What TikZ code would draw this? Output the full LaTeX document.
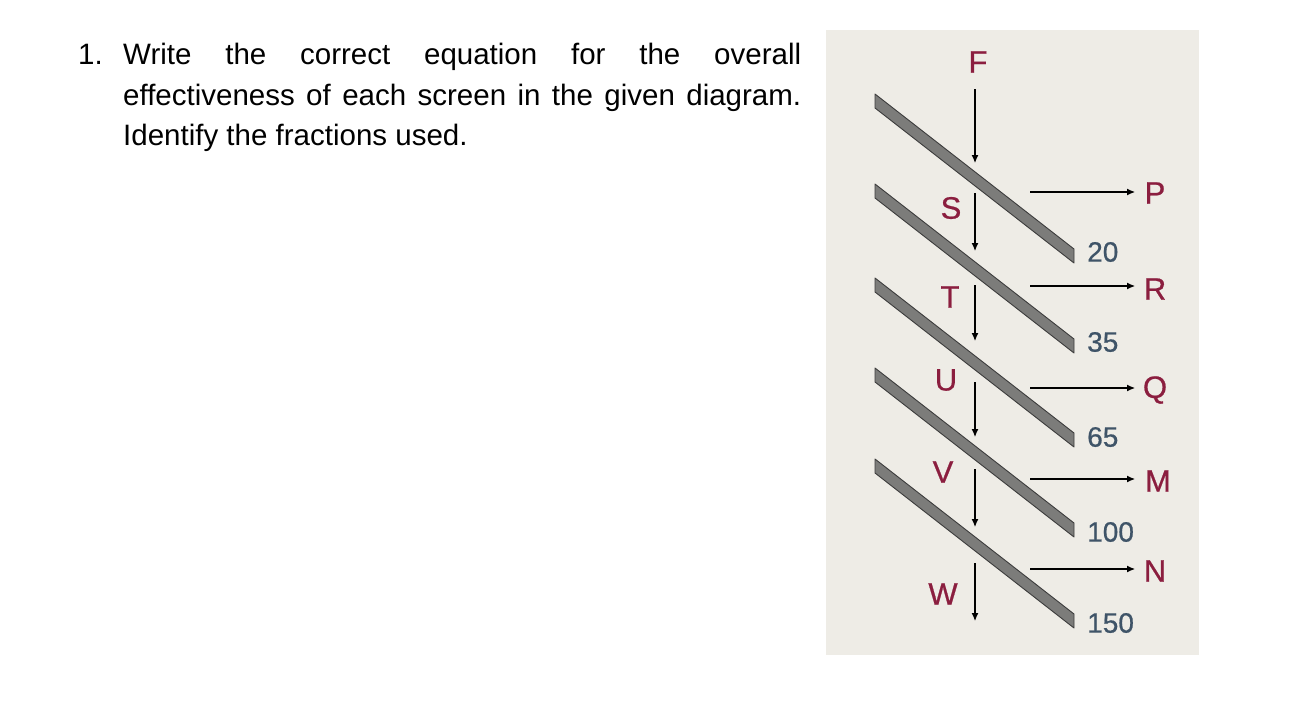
\documentclass[tikz,border=0pt]{standalone}
\usepackage{fontspec}
\setmainfont{Liberation Sans}
\newfontfamily\diagfont[FakeBold=0.7]{Liberation Sans}
\usetikzlibrary{arrows.meta}
\definecolor{panel}{HTML}{EEECE6}
\definecolor{lblred}{HTML}{8B1E3F}
\definecolor{numblue}{HTML}{3F5468}
\definecolor{barfill}{HTML}{7C7C7A}
\definecolor{baredge}{HTML}{3C3C3C}
\tikzset{
  bar/.style={fill=barfill,draw=baredge,line width=0.9pt,line join=round},
  flow/.style={draw=black,line width=1.1pt,-{Latex[length=8pt,width=7pt]}},
  lbl/.style={text=lblred,font=\diagfont\fontsize{31}{33}\selectfont,inner sep=0pt},
  num/.style={text=numblue,font=\diagfont\fontsize{28}{30}\selectfont,inner sep=0pt,anchor=west},
  qtext/.style={font=\fontsize{29.5}{32}\selectfont,inner sep=0pt,anchor=base west}
}
\begin{document}
\begin{tikzpicture}[x=1pt,y=-1pt]
\useasboundingbox (0,0) rectangle (1300,710);
\fill[white] (0,0) rectangle (1300,710);
\fill[panel] (826,30) rectangle (1199,655);
% question text
\node[qtext] (q0) at (78,64) {1.};
\node[qtext] (q1) at (123,64) {\makebox[678pt][s]{Write the correct equation for the overall}};
\node[qtext] (q2) at (123,105) {\makebox[678pt][s]{effectiveness of each screen in the given diagram.}};
\node[qtext] (q3) at (123,145) {Identify the fractions used.};
% screens
\foreach \y in {94,184,278,368,459}{
  \draw[bar] (875,\y) -- (1074,\y+155) -- (1074,\y+169) -- (875,\y+14) -- cycle;
}
% vertical arrows
\coordinate (f1) at (975,89);  \coordinate (f2) at (975,163);
\coordinate (s1) at (975,193); \coordinate (s2) at (975,251);
\coordinate (t1) at (975,285); \coordinate (t2) at (975,341);
\coordinate (u1) at (975,382); \coordinate (u2) at (975,437);
\coordinate (v1) at (975,469); \coordinate (v2) at (975,527);
\coordinate (w1) at (975,563); \coordinate (w2) at (975,621);
\foreach \a in {f,s,t,u,v,w}{\draw[flow] (\a1) -- (\a2);}
% horizontal arrows
\foreach \n/\y in {p/192,r/286,q/388,m/479,n/569}{
  \coordinate (\n1) at (1030,\y); \coordinate (\n2) at (1135,\y);
  \draw[flow] (\n1) -- (\n2);
}
% labels
\node[lbl] (F) at (978,62) {F};
\node[lbl] (S) at (951,208) {S};
\node[lbl] (T) at (950,297) {T};
\node[lbl] (U) at (946,380) {U};
\node[lbl] (V) at (943,472) {V};
\node[lbl] (W) at (943,594) {W};
\node[lbl] (P) at (1155,193) {P};
\node[lbl] (R) at (1155,289) {R};
\node[lbl] (Q) at (1155,390) {Q};
\node[lbl] (M) at (1158,481) {M};
\node[lbl] (N) at (1155,571) {N};
% numbers
\node[num] (n20) at (1087,252) {20};
\node[num] (n35) at (1087,342) {35};
\node[num] (n65) at (1087,437) {65};
\node[num] (n100) at (1087,532) {100};
\node[num] (n150) at (1087,623) {150};
\end{tikzpicture}
\end{document}
